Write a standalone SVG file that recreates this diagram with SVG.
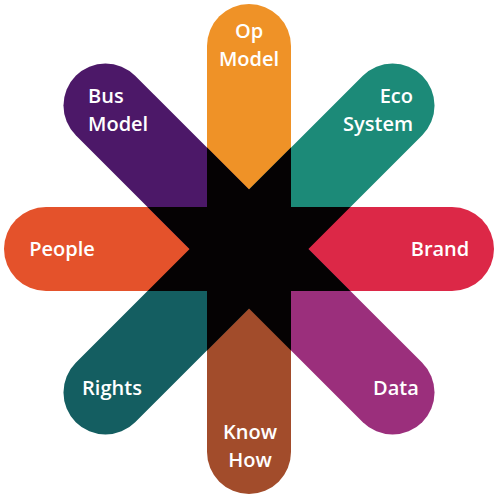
<svg xmlns="http://www.w3.org/2000/svg" width="499" height="497" viewBox="0 0 499 497">
<style>
.lbl{font-family:"Open Sans","Liberation Sans",sans-serif;font-weight:600;font-size:20px;fill:#ffffff}
.m{text-anchor:middle}
.e{text-anchor:end}
.s{text-anchor:start}
</style>
<defs>
<path id="pill" d="M-42,0 V-203 A42,42 0 0 1 42,-203 V0 Z"/>
</defs>
<rect width="499" height="497" fill="#ffffff"/>
<g id="op-model">
<use href="#pill" transform="translate(249,249)" fill="#EF9227"/>
<text class="lbl m" x="249" y="38">Op</text>
<text class="lbl m" x="249" y="66">Model</text>
</g>
<g id="eco-system">
<use href="#pill" transform="translate(249,249) rotate(45)" fill="#1C8A78"/>
<text class="lbl e" x="413" y="103">Eco</text>
<text class="lbl e" x="413" y="131">System</text>
</g>
<g id="brand">
<use href="#pill" transform="translate(249,249) rotate(90)" fill="#DC2847"/>
<text class="lbl m" x="440" y="256">Brand</text>
</g>
<g id="data">
<use href="#pill" transform="translate(249,249) rotate(135)" fill="#9B2F7C"/>
<text class="lbl m" x="396" y="395">Data</text>
</g>
<g id="know-how">
<use href="#pill" transform="translate(249,249) rotate(180)" fill="#A24C2B"/>
<text class="lbl m" x="250" y="439">Know</text>
<text class="lbl m" x="250" y="467">How</text>
</g>
<g id="rights">
<use href="#pill" transform="translate(249,249) rotate(225)" fill="#145E61"/>
<text class="lbl m" x="112" y="395">Rights</text>
</g>
<g id="people">
<use href="#pill" transform="translate(249,249) rotate(270)" fill="#E4522B"/>
<text class="lbl m" x="62" y="256">People</text>
</g>
<g id="bus-model">
<use href="#pill" transform="translate(249,249) rotate(315)" fill="#4C1868"/>
<text class="lbl s" x="88" y="103">Bus</text>
<text class="lbl s" x="88" y="131">Model</text>
</g>
<g id="center">
<path transform="translate(249,249)" fill="#050203" d="M0,-59.4 L42,-101.4 L42,-42 L101.4,-42 L59.4,0 L101.4,42 L42,42 L42,101.4 L0,59.4 L-42,101.4 L-42,42 L-101.4,42 L-59.4,0 L-101.4,-42 L-42,-42 L-42,-101.4 Z"/>
</g>
</svg>
